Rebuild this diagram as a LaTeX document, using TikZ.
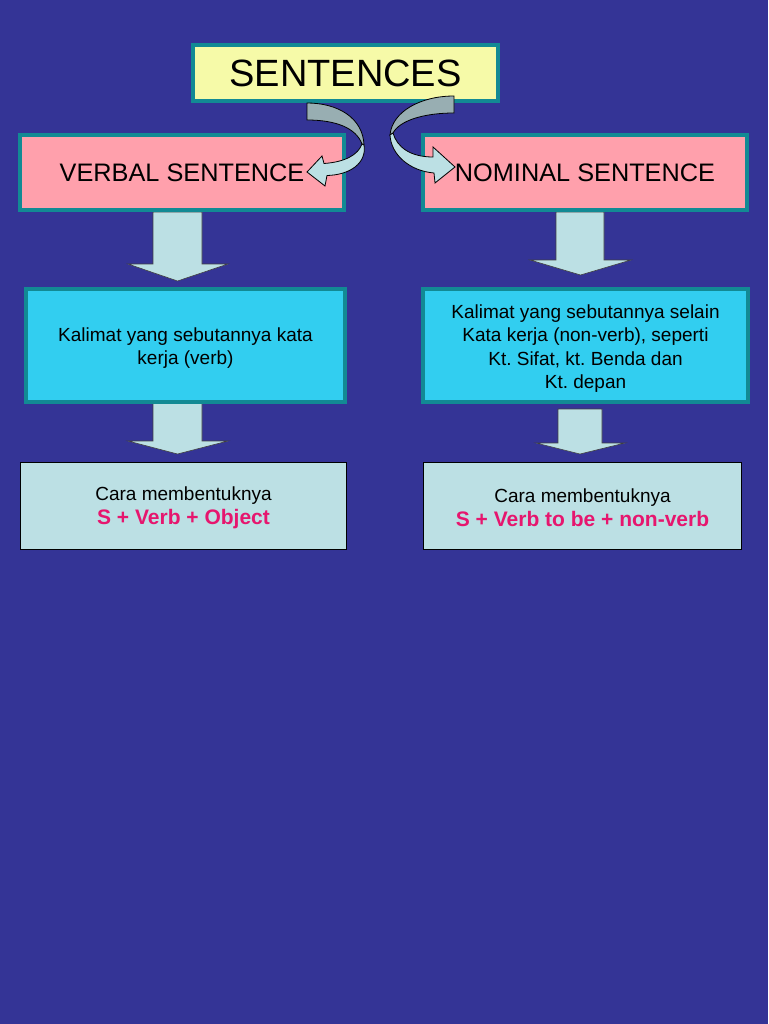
\documentclass[tikz,border=0pt]{standalone}
\usepackage{fontspec}
\setmainfont{Liberation Sans}
\frenchspacing
\definecolor{bgblue}{RGB}{52,52,150}
\definecolor{tealb}{RGB}{18,138,148}
\definecolor{ylw}{RGB}{246,250,168}
\definecolor{pnk}{RGB}{255,160,172}
\definecolor{cyn}{RGB}{50,206,240}
\definecolor{pale}{RGB}{188,224,228}
\definecolor{grayb}{RGB}{152,174,178}
\definecolor{magt}{RGB}{230,22,110}
\begin{document}
\begin{tikzpicture}[x=1pt,y=-1pt,
  tealbox/.style={draw=tealb,line width=4pt,inner sep=0pt,align=center},
  thinbox/.style={draw=black,line width=0.8pt,fill=pale,inner sep=0pt,align=center},
  barrow/.style={fill=pale,draw=black!75,line width=0.6pt,line join=miter},
  backface/.style={fill=grayb,draw=black,line width=0.8pt},
  frontface/.style={fill=pale,draw=black,line width=0.8pt},
  small/.style={font=\fontsize{19}{23.6}\selectfont,align=center,inner sep=0pt},
  boldpink/.style={font=\fontsize{21}{24}\selectfont\bfseries,text=magt}
]
\fill[bgblue] (0,0) rectangle (768,1024);
\useasboundingbox (0,0) rectangle (768,1024);

% block arrows
\draw[barrow] (153,212) -- (202,212) -- (202,264) -- (228,264) -- (177.5,281) -- (128,264) -- (153,264) -- cycle;
\draw[barrow] (153,403) -- (202,403) -- (202,441) -- (228,441) -- (177.5,454) -- (128,441) -- (153,441) -- cycle;
\draw[barrow] (556,212) -- (604,212) -- (604,260) -- (631,260) -- (580.5,275) -- (530,260) -- (556,260) -- cycle;
\draw[barrow] (558,409) -- (602,409) -- (602,443) -- (625,443) -- (580,454) -- (536,443) -- (558,443) -- cycle;

% boxes
\node[tealbox,fill=ylw,minimum width=305,minimum height=56,font=\fontsize{38}{40}\selectfont] (title) at (345.5,73) {SENTENCES};
\node[tealbox,fill=pnk,minimum width=324,minimum height=75,font=\fontsize{25.3}{28}\selectfont] (verbal) at (182,172.5) {VERBAL SENTENCE};
\node[tealbox,fill=pnk,minimum width=324,minimum height=75,font=\fontsize{25.3}{28}\selectfont] (nominal) at (585,172.5) {NOMINAL SENTENCE};
\node[tealbox,fill=cyn,minimum width=319,minimum height=113] (vdef) at (185.5,345.5) {};
\node[small] (vdeftext) at ([yshift=-2.5pt]vdef.center) {Kalimat yang sebutannya kata\\kerja (verb)};
\node[tealbox,fill=cyn,minimum width=325,minimum height=113] (ndef) at (585.5,345.5) {};
\node[small] (ndeftext) at ([yshift=-3pt]ndef.center) {Kalimat yang sebutannya selain\\Kata kerja (non-verb), seperti\\Kt. Sifat, kt. Benda dan\\Kt. depan};
\node[thinbox,minimum width=326,minimum height=87] (vform) at (183.5,506) {};
\node[small] (vformtext) at ([yshift=-2pt]vform.center) {Cara membentuknya\\[0.3pt]{\fontsize{21}{24}\selectfont\bfseries\color{magt}S + Verb + Object}};
\node[thinbox,minimum width=318,minimum height=87] (nform) at (582.5,506) {};
\node[small] (nformtext) at ([yshift=-2pt]nform.center) {Cara membentuknya\\[0.3pt]{\fontsize{21}{24}\selectfont\bfseries\color{magt}S + Verb to be + non-verb}};

% curved arrows: left
\draw[backface] (307,103) .. controls (338,103) and (363,118) .. (364,145) -- (362,144) .. controls (356,128) and (336,120) .. (307,120) -- cycle;
\draw[frontface,line join=miter] (364,145) .. controls (367,163) and (350,175) .. (327,175.5) -- (325,186) -- (307,172) -- (322,156) -- (324,163.5) .. controls (345,162) and (358,155) .. (362,144) -- cycle;
% curved arrows: right
\draw[backface] (454,96) .. controls (420,96) and (392,112) .. (390,135) -- (393,133) .. controls (400,120) and (425,113) .. (454,113) -- cycle;
\draw[frontface,line join=miter] (390,135) .. controls (391,155) and (410,171) .. (434,173) -- (435,183) -- (455,167) -- (433,147) -- (433,157) .. controls (410,157) and (397,147) .. (393,133) -- cycle;
\end{tikzpicture}
\end{document}
